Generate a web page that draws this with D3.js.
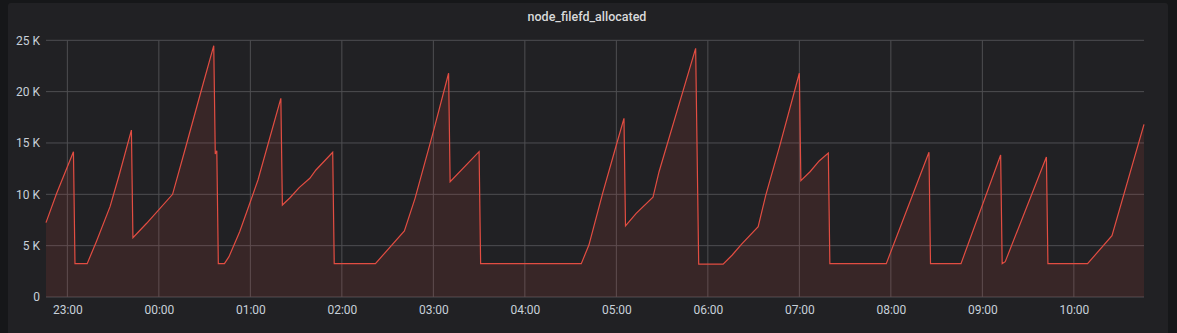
<!DOCTYPE html>
<html>
<head>
<meta charset="utf-8">
<script src="https://cdn.jsdelivr.net/npm/d3@7"></script>
<style>
    body { margin: 0; background: #161719; }
    svg { display: block; }
</style>
</head>
<body>
<svg id="drawing_region" width="1177" height="333"></svg>
<script>
const title = "node_filefd_allocated";

// sample times (HH:MM, crossing midnight) and node_filefd_allocated values
const times = [
    "22:46", "22:53", "23:04", "23:05", "23:13", "23:19", "23:28", "23:34", "23:42", "23:43",
    "23:52", "00:09", "00:18", "00:27", "00:36", "00:37", "00:38", "00:39", "00:43", "00:46",
    "00:53", "01:00", "01:05", "01:20", "01:21", "01:26", "01:32", "01:39", "01:43", "01:54",
    "01:55", "02:22", "02:41", "02:48", "03:00", "03:10", "03:11", "03:30", "03:31", "04:37",
    "04:42", "04:51", "05:00", "05:05", "05:06", "05:13", "05:24", "05:28", "05:52", "05:54",
    "06:10", "06:16", "06:22", "06:33", "06:38", "06:47", "07:00", "07:01", "07:07", "07:13",
    "07:19", "07:20", "07:57", "08:25", "08:26", "08:46", "09:12", "09:13", "09:15", "09:42",
    "09:43", "10:09", "10:25", "10:46"
];
const values = [
    7240, 10100, 14150, 3250, 3250, 5390, 8800, 11880, 16260, 5780,
    7180, 10000, 14800, 19670, 24480, 13930, 14250, 3250, 3250, 3930,
    6360, 9280, 11400, 19350, 8960, 9670, 10650, 11560, 12370, 14090,
    3250, 3250, 6430, 9610, 16100, 21790, 11230, 14150, 3250, 3250,
    5060, 10100, 14800, 17400, 6920, 8150, 9710, 12200, 24220, 3200,
    3200, 4090, 5130, 6850, 9930, 14640, 21790, 11330, 12200, 13250,
    14020, 3250, 3250, 14090, 3250, 3250, 13830, 3250, 3440, 13640,
    3250, 3250, 5970, 16820
];
const yTicks = [0, 5000, 10000, 15000, 20000, 25000];
const startTime = "22:46";
const endTime = "10:46";

// turn HH:MM into dates, rolling over to the next day after midnight
const parse = d3.timeParse("%Y-%m-%d %H:%M");
function toDate(t) {
    const day = +t.slice(0, 2) >= 12 ? "2024-01-01" : "2024-01-02";
    return parse(day + " " + t);
}
const data = times.map((t, i) => ({ t: toDate(t), v: values[i] }));

const svg = d3.select("#drawing_region");
const plotLeft = 46, plotRight = 1144, plotTop = 40.3, plotBottom = 297;

// panel
svg.append("rect")
    .attr("x", 8).attr("y", 3)
    .attr("width", 1160).attr("height", 340)
    .attr("rx", 3)
    .attr("fill", "#212124");

svg.append("text")
    .attr("x", 587).attr("y", 21)
    .attr("text-anchor", "middle")
    .attr("font-family", "Roboto, sans-serif")
    .attr("font-size", 12.5)
    .attr("font-weight", 500)
    .attr("fill", "#d8d9da")
    .text(title);

const x = d3.scaleTime()
    .domain([toDate(startTime), toDate(endTime)])
    .range([plotLeft, plotRight]);
const y = d3.scaleLinear()
    .domain([0, 25000])
    .range([plotBottom, plotTop]);

// grid
svg.append("g")
    .selectAll("line")
    .data(yTicks)
    .enter()
    .append("line")
    .attr("x1", plotLeft).attr("x2", plotRight)
    .attr("y1", d => y(d)).attr("y2", d => y(d))
    .attr("stroke", "#4e4e52")
    .attr("stroke-width", 1);

const hours = x.ticks(d3.timeHour.every(1));
svg.append("g")
    .selectAll("line")
    .data(hours)
    .enter()
    .append("line")
    .attr("x1", d => x(d)).attr("x2", d => x(d))
    .attr("y1", plotTop).attr("y2", plotBottom)
    .attr("stroke", "#4e4e52")
    .attr("stroke-width", 1);

// area + line
const area = d3.area()
    .x(d => x(d.t))
    .y0(y(0))
    .y1(d => y(d.v));
const line = d3.line()
    .x(d => x(d.t))
    .y(d => y(d.v));

svg.append("path")
    .datum(data)
    .attr("d", area)
    .attr("fill", "rgba(226, 77, 66, 0.12)");

svg.append("path")
    .datum(data)
    .attr("d", line)
    .attr("fill", "none")
    .attr("stroke", "#e24d42")
    .attr("stroke-width", 1.2);

// axes labels
const yAxis = d3.axisLeft(y)
    .tickValues(yTicks)
    .tickSize(0)
    .tickPadding(6)
    .tickFormat(d => d === 0 ? "0" : (d / 1000) + " K");
const xAxis = d3.axisBottom(x)
    .ticks(d3.timeHour.every(1))
    .tickSize(0)
    .tickPadding(8)
    .tickFormat(d3.timeFormat("%H:%M"));

svg.append("g")
    .attr("transform", `translate(${plotLeft},0)`)
    .call(yAxis)
    .call(g => g.select(".domain").remove());
svg.append("g")
    .attr("transform", `translate(0,${plotBottom})`)
    .call(xAxis)
    .call(g => g.select(".domain").remove());

svg.selectAll(".tick text")
    .attr("font-family", "Roboto, sans-serif")
    .attr("font-size", 12)
    .attr("fill", "#c7d0d9");
</script>
</body>
</html>
